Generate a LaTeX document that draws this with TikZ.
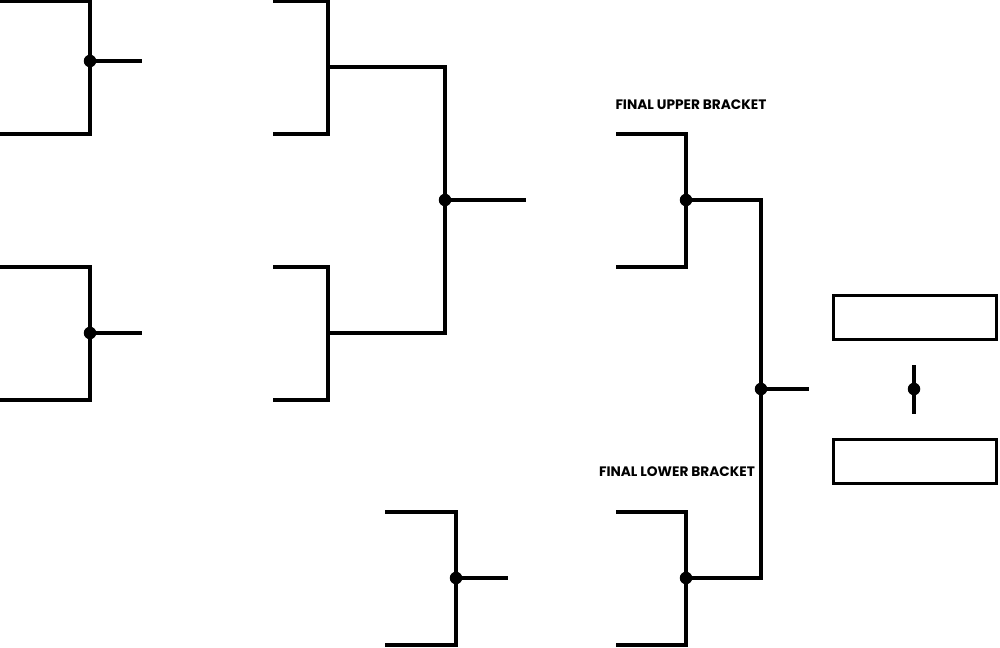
\documentclass[tikz,border=0pt]{standalone}
\usepackage{fontspec}
\setmainfont{Poppins}
\tikzset{
    brk/.style={line width=1.9pt},
    joint/.style={circle, fill, inner sep=0pt, minimum size=2.5mm},
    slot/.style={draw, line width=1.9pt, minimum width=32.5mm, minimum height=8.7mm, inner sep=0pt},
    tag/.style={font=\fontsize{7.8}{9}\selectfont\bfseries}
}
\begin{document}
\begin{tikzpicture}[x=0.2mm, y=-0.2mm]
    \useasboundingbox (0,0) rectangle (1000,647);

    % first round, upper half
    \coordinate (a1t) at (0,1.5);
    \coordinate (a1b) at (0,134);
    \node[joint] (a1) at (90,61) {};
    \coordinate (a1o) at (142,61);
    \draw[brk] (a1t) -| (a1.center) |- (a1b);
    \draw[brk] (a1.center) -- (a1o);

    \coordinate (a2t) at (0,267);
    \coordinate (a2b) at (0,400);
    \node[joint] (a2) at (90,333) {};
    \coordinate (a2o) at (142,333);
    \draw[brk] (a2t) -| (a2.center) |- (a2b);
    \draw[brk] (a2.center) -- (a2o);

    % second round
    \coordinate (b1t) at (273,1.5);
    \coordinate (b1b) at (273,134);
    \coordinate (b1) at (328,67);
    \draw[brk] (b1t) -| (b1) |- (b1b);

    \coordinate (b2t) at (273,267);
    \coordinate (b2b) at (273,400);
    \coordinate (b2) at (328,333);
    \draw[brk] (b2t) -| (b2) |- (b2b);

    \node[joint] (c1) at (445,200) {};
    \coordinate (c1o) at (526,200);
    \draw[brk] (b1) -| (c1.center) |- (b2);
    \draw[brk] (c1.center) -- (c1o);

    % lower bracket
    \coordinate (d1t) at (385,512);
    \coordinate (d1b) at (385,645);
    \node[joint] (d1) at (456,578) {};
    \coordinate (d1o) at (508,578);
    \draw[brk] (d1t) -| (d1.center) |- (d1b);
    \draw[brk] (d1.center) -- (d1o);

    % finals
    \node[tag] (upper) at (691,105) {FINAL UPPER BRACKET};
    \coordinate (u1t) at (616,134);
    \coordinate (u1b) at (616,267);
    \node[joint] (u1) at (686,200) {};
    \draw[brk] (u1t) -| (u1.center) |- (u1b);

    \node[tag] (lower) at (677,472) {FINAL LOWER BRACKET};
    \coordinate (l1t) at (616,512);
    \coordinate (l1b) at (616,645);
    \node[joint] (l1) at (686,578) {};
    \draw[brk] (l1t) -| (l1.center) |- (l1b);

    \node[joint] (g1) at (761,389) {};
    \coordinate (g1o) at (809,389);
    \draw[brk] (u1.center) -| (g1.center) |- (l1.center);
    \draw[brk] (g1.center) -- (g1o);

    % grand final
    \node[slot] (s1) at (915,317.5) {};
    \node[slot] (s2) at (915,461.5) {};
    \node[joint] (v1) at (914,389) {};
    \coordinate (v1t) at (914,365);
    \coordinate (v1b) at (914,414);
    \draw[brk] (v1t) -- (v1b);
\end{tikzpicture}
\end{document}
